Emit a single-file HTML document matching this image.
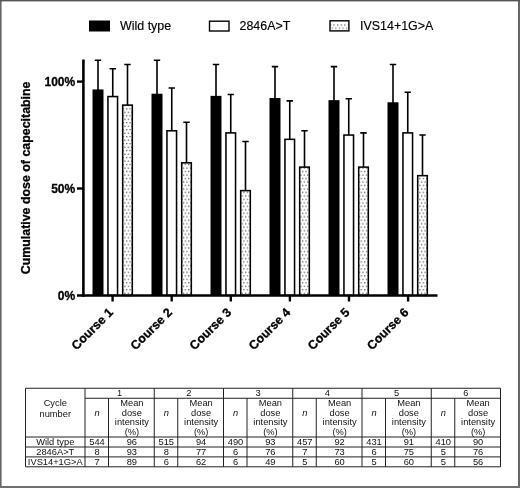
<!DOCTYPE html>
<html><head><meta charset="utf-8"><title>Figure</title>
<style>
html,body{margin:0;padding:0;background:#fff;}
body{width:520px;height:488px;overflow:hidden;font-family:"Liberation Sans",sans-serif;}
svg{display:block;}
text{font-family:"Liberation Sans",sans-serif;fill:#000;}
.b{font-weight:bold;font-size:12.4px;stroke:#000;stroke-width:0.3px;}
.l{font-size:12.45px;stroke:#000;stroke-width:0.15px;}
.t{font-size:9.3px;text-anchor:middle;fill:#111;}
</style></head><body>
<svg width="520" height="488" viewBox="0 0 520 488">
<defs>
<pattern id="dots" x="126.0" y="108.2" width="3.45" height="6.96" patternUnits="userSpaceOnUse">
<circle cx="0.7" cy="0.7" r="0.62" fill="#222"/>
<circle cx="2.42" cy="4.18" r="0.62" fill="#222"/>
</pattern>
<pattern id="dotsL" x="333.4" y="24.4" width="3.6" height="30" patternUnits="userSpaceOnUse">
<circle cx="0.7" cy="0.7" r="0.62" fill="#222"/>
<circle cx="2.5" cy="3.8" r="0.62" fill="#222"/>
</pattern>
</defs>
<rect x="0" y="0" width="520" height="488" fill="#fff"/>

<rect x="0" y="0" width="1.6" height="488" fill="#666"/><rect x="518" y="0" width="2" height="488" fill="#666"/><rect x="0" y="486" width="520" height="2" fill="#707070"/><rect x="0" y="0" width="520" height="1.4" fill="#555"/>
<rect x="89" y="20.5" width="21" height="11" fill="#000"/>
<text class="l" x="120" y="30">Wild type</text>
<rect x="209.5" y="21.2" width="19.5" height="9.8" fill="#fff" stroke="#000" stroke-width="1.4"/>
<text class="l" x="239.5" y="30">2846A&gt;T</text>
<rect x="330" y="20.8" width="18.9" height="10.1" fill="url(#dotsL)" stroke="#000" stroke-width="1.4"/>
<text class="l" x="360" y="30">IVS14+1G&gt;A</text>
<path d="M98.00 90.15V60.22M94.80 60.22H101.20" stroke="#000" stroke-width="1.6" fill="none"/>
<rect x="92.50" y="89.45" width="11.0" height="205.95" fill="#000"/>
<path d="M112.75 96.57V68.77M109.55 68.77H115.95" stroke="#000" stroke-width="1.6" fill="none"/>
<rect x="107.95" y="96.57" width="9.6" height="198.83" fill="#fff" stroke="#000" stroke-width="1.55"/>
<path d="M127.50 105.12V64.50M124.30 64.50H130.70" stroke="#000" stroke-width="1.6" fill="none"/>
<rect x="122.70" y="105.12" width="9.6" height="190.28" fill="url(#dots)" stroke="#000" stroke-width="1.55"/>
<path d="M157.00 94.43V60.22M153.80 60.22H160.20" stroke="#000" stroke-width="1.6" fill="none"/>
<rect x="151.50" y="93.73" width="11.0" height="201.67" fill="#000"/>
<path d="M171.75 130.77V88.01M168.55 88.01H174.95" stroke="#000" stroke-width="1.6" fill="none"/>
<rect x="166.95" y="130.77" width="9.6" height="164.63" fill="#fff" stroke="#000" stroke-width="1.55"/>
<path d="M186.50 162.84V122.22M183.30 122.22H189.70" stroke="#000" stroke-width="1.6" fill="none"/>
<rect x="181.70" y="162.84" width="9.6" height="132.56" fill="url(#dots)" stroke="#000" stroke-width="1.55"/>
<path d="M216.00 96.57V64.50M212.80 64.50H219.20" stroke="#000" stroke-width="1.6" fill="none"/>
<rect x="210.50" y="95.87" width="11.0" height="199.53" fill="#000"/>
<path d="M230.75 132.91V94.43M227.55 94.43H233.95" stroke="#000" stroke-width="1.6" fill="none"/>
<rect x="225.95" y="132.91" width="9.6" height="162.49" fill="#fff" stroke="#000" stroke-width="1.55"/>
<path d="M245.50 190.64V141.46M242.30 141.46H248.70" stroke="#000" stroke-width="1.6" fill="none"/>
<rect x="240.70" y="190.64" width="9.6" height="104.76" fill="url(#dots)" stroke="#000" stroke-width="1.55"/>
<path d="M275.00 98.70V66.63M271.80 66.63H278.20" stroke="#000" stroke-width="1.6" fill="none"/>
<rect x="269.50" y="98.00" width="11.0" height="197.40" fill="#000"/>
<path d="M289.75 139.33V100.84M286.55 100.84H292.95" stroke="#000" stroke-width="1.6" fill="none"/>
<rect x="284.95" y="139.33" width="9.6" height="156.07" fill="#fff" stroke="#000" stroke-width="1.55"/>
<path d="M304.50 167.12V130.77M301.30 130.77H307.70" stroke="#000" stroke-width="1.6" fill="none"/>
<rect x="299.70" y="167.12" width="9.6" height="128.28" fill="url(#dots)" stroke="#000" stroke-width="1.55"/>
<path d="M334.00 100.84V66.63M330.80 66.63H337.20" stroke="#000" stroke-width="1.6" fill="none"/>
<rect x="328.50" y="100.14" width="11.0" height="195.26" fill="#000"/>
<path d="M348.75 135.05V98.70M345.55 98.70H351.95" stroke="#000" stroke-width="1.6" fill="none"/>
<rect x="343.95" y="135.05" width="9.6" height="160.35" fill="#fff" stroke="#000" stroke-width="1.55"/>
<path d="M363.50 167.12V132.91M360.30 132.91H366.70" stroke="#000" stroke-width="1.6" fill="none"/>
<rect x="358.70" y="167.12" width="9.6" height="128.28" fill="url(#dots)" stroke="#000" stroke-width="1.55"/>
<path d="M393.00 102.98V64.50M389.80 64.50H396.20" stroke="#000" stroke-width="1.6" fill="none"/>
<rect x="387.50" y="102.28" width="11.0" height="193.12" fill="#000"/>
<path d="M407.75 132.91V92.29M404.55 92.29H410.95" stroke="#000" stroke-width="1.6" fill="none"/>
<rect x="402.95" y="132.91" width="9.6" height="162.49" fill="#fff" stroke="#000" stroke-width="1.55"/>
<path d="M422.50 175.67V135.05M419.30 135.05H425.70" stroke="#000" stroke-width="1.6" fill="none"/>
<rect x="417.70" y="175.67" width="9.6" height="119.73" fill="url(#dots)" stroke="#000" stroke-width="1.55"/>
<path d="M83.4 59.5V296.79999999999995" stroke="#000" stroke-width="2.6" fill="none"/>
<path d="M77 295.5H437.5" stroke="#000" stroke-width="2.6" fill="none"/>
<path d="M77 81.60H83" stroke="#000" stroke-width="2.4" fill="none"/>
<text class="b" style="font-size:12px" x="75.2" y="85.80" text-anchor="end">100%</text>
<path d="M77 188.50H83" stroke="#000" stroke-width="2.4" fill="none"/>
<text class="b" style="font-size:12px" x="75.2" y="192.70" text-anchor="end">50%</text>
<text class="b" style="font-size:12px" x="75.2" y="299.60" text-anchor="end">0%</text>
<path d="M112.60 295.4V301.5" stroke="#000" stroke-width="2.4" fill="none"/>
<text class="b" text-anchor="end" transform="translate(113.90 313.2) rotate(-45)">Course 1</text>
<path d="M171.70 295.4V301.5" stroke="#000" stroke-width="2.4" fill="none"/>
<text class="b" text-anchor="end" transform="translate(173.00 313.2) rotate(-45)">Course 2</text>
<path d="M230.80 295.4V301.5" stroke="#000" stroke-width="2.4" fill="none"/>
<text class="b" text-anchor="end" transform="translate(232.10 313.2) rotate(-45)">Course 3</text>
<path d="M289.90 295.4V301.5" stroke="#000" stroke-width="2.4" fill="none"/>
<text class="b" text-anchor="end" transform="translate(291.20 313.2) rotate(-45)">Course 4</text>
<path d="M349.00 295.4V301.5" stroke="#000" stroke-width="2.4" fill="none"/>
<text class="b" text-anchor="end" transform="translate(350.30 313.2) rotate(-45)">Course 5</text>
<path d="M408.10 295.4V301.5" stroke="#000" stroke-width="2.4" fill="none"/>
<text class="b" text-anchor="end" transform="translate(409.40 313.2) rotate(-45)">Course 6</text>
<text class="b" text-anchor="middle" transform="translate(30.3 177.9) rotate(-90)">Cumulative dose of capecitabine</text>
<path d="M25.5 388.25H500.5V466.8H25.5ZM85.0 398.25H500.5M25.5 437H500.5M25.5 447H500.5M25.5 456.9H500.5M85.0 388.25V466.8M108.50 398.25V466.8M154.25 388.25V466.8M177.75 398.25V466.8M223.50 388.25V466.8M247.00 398.25V466.8M292.75 388.25V466.8M316.25 398.25V466.8M362.00 388.25V466.8M385.50 398.25V466.8M431.25 388.25V466.8M454.75 398.25V466.8" stroke="#222" stroke-width="1" fill="none"/>
<text class="t" x="55.25" y="406.3">Cycle</text><text class="t" x="55.25" y="416.6">number</text>
<text class="t" x="55.25" y="445.00">Wild type</text>
<text class="t" x="55.25" y="454.90">2846A&gt;T</text>
<text class="t" x="55.25" y="464.80">IVS14+1G&gt;A</text>
<text class="t" x="119.62" y="396.4">1</text>
<text class="t" x="97.05" y="416.3" font-style="italic">n</text>
<text class="t" x="131.88" y="406.30">Mean</text>
<text class="t" x="131.88" y="415.80">dose</text>
<text class="t" x="131.88" y="425.30">intensity</text>
<text class="t" x="131.88" y="434.80">(%)</text>
<text class="t" x="97.05" y="445.00">544</text>
<text class="t" x="131.88" y="445.00">96</text>
<text class="t" x="97.05" y="454.90">8</text>
<text class="t" x="131.88" y="454.90">93</text>
<text class="t" x="97.05" y="464.80">7</text>
<text class="t" x="131.88" y="464.80">89</text>
<text class="t" x="188.88" y="396.4">2</text>
<text class="t" x="166.30" y="416.3" font-style="italic">n</text>
<text class="t" x="201.12" y="406.30">Mean</text>
<text class="t" x="201.12" y="415.80">dose</text>
<text class="t" x="201.12" y="425.30">intensity</text>
<text class="t" x="201.12" y="434.80">(%)</text>
<text class="t" x="166.30" y="445.00">515</text>
<text class="t" x="201.12" y="445.00">94</text>
<text class="t" x="166.30" y="454.90">8</text>
<text class="t" x="201.12" y="454.90">77</text>
<text class="t" x="166.30" y="464.80">6</text>
<text class="t" x="201.12" y="464.80">62</text>
<text class="t" x="258.12" y="396.4">3</text>
<text class="t" x="235.55" y="416.3" font-style="italic">n</text>
<text class="t" x="270.38" y="406.30">Mean</text>
<text class="t" x="270.38" y="415.80">dose</text>
<text class="t" x="270.38" y="425.30">intensity</text>
<text class="t" x="270.38" y="434.80">(%)</text>
<text class="t" x="235.55" y="445.00">490</text>
<text class="t" x="270.38" y="445.00">93</text>
<text class="t" x="235.55" y="454.90">6</text>
<text class="t" x="270.38" y="454.90">76</text>
<text class="t" x="235.55" y="464.80">6</text>
<text class="t" x="270.38" y="464.80">49</text>
<text class="t" x="327.38" y="396.4">4</text>
<text class="t" x="304.80" y="416.3" font-style="italic">n</text>
<text class="t" x="339.62" y="406.30">Mean</text>
<text class="t" x="339.62" y="415.80">dose</text>
<text class="t" x="339.62" y="425.30">intensity</text>
<text class="t" x="339.62" y="434.80">(%)</text>
<text class="t" x="304.80" y="445.00">457</text>
<text class="t" x="339.62" y="445.00">92</text>
<text class="t" x="304.80" y="454.90">7</text>
<text class="t" x="339.62" y="454.90">73</text>
<text class="t" x="304.80" y="464.80">5</text>
<text class="t" x="339.62" y="464.80">60</text>
<text class="t" x="396.62" y="396.4">5</text>
<text class="t" x="374.05" y="416.3" font-style="italic">n</text>
<text class="t" x="408.88" y="406.30">Mean</text>
<text class="t" x="408.88" y="415.80">dose</text>
<text class="t" x="408.88" y="425.30">intensity</text>
<text class="t" x="408.88" y="434.80">(%)</text>
<text class="t" x="374.05" y="445.00">431</text>
<text class="t" x="408.88" y="445.00">91</text>
<text class="t" x="374.05" y="454.90">6</text>
<text class="t" x="408.88" y="454.90">75</text>
<text class="t" x="374.05" y="464.80">5</text>
<text class="t" x="408.88" y="464.80">60</text>
<text class="t" x="465.88" y="396.4">6</text>
<text class="t" x="443.30" y="416.3" font-style="italic">n</text>
<text class="t" x="478.12" y="406.30">Mean</text>
<text class="t" x="478.12" y="415.80">dose</text>
<text class="t" x="478.12" y="425.30">intensity</text>
<text class="t" x="478.12" y="434.80">(%)</text>
<text class="t" x="443.30" y="445.00">410</text>
<text class="t" x="478.12" y="445.00">90</text>
<text class="t" x="443.30" y="454.90">5</text>
<text class="t" x="478.12" y="454.90">76</text>
<text class="t" x="443.30" y="464.80">5</text>
<text class="t" x="478.12" y="464.80">56</text>
</svg></body></html>
